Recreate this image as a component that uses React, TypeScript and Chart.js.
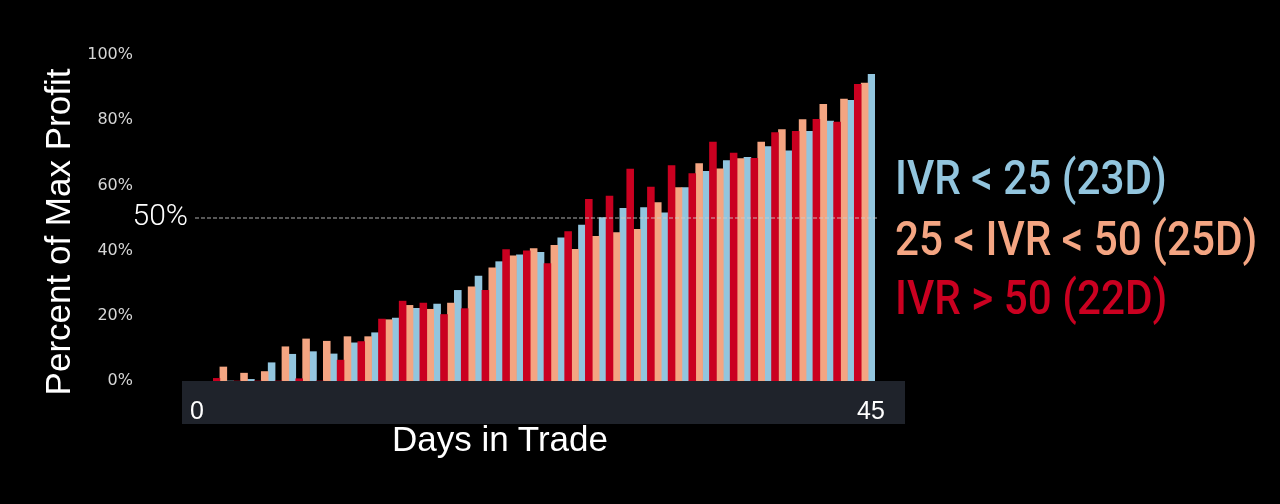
import { useEffect, useRef } from 'react'
import { Chart, registerables } from 'chart.js'

Chart.register(...registerables)

// one group of three bars per bucket, left to right
const buckets = [
  '0', '1', '2', '3', '4', '5', '6', '7', '8', '9', '10', '11', '12', '13', '14', '15',
  '16', '17', '18', '19', '20', '21', '22', '23', '24', '25', '26', '27', '28', '29', '30', '31',
]

// percent of max profit
const highIvr = [
  0.8, 0, 0, 0, 0.7, 0, 6.4, 12.1, 19.0, 24.5, 23.9, 20.4, 22.2, 27.8, 40.3, 39.9,
  36.0, 45.8, 55.7, 56.7, 65.0, 59.5, 66.1, 63.6, 73.3, 69.9, 68.3, 76.2, 76.6, 80.3, 79.4, 91.0,
]
const midIvr = [
  4.3, 2.4, 2.9, 10.5, 12.9, 12.2, 13.6, 13.6, 18.8, 23.2, 22.0, 23.9, 28.9, 34.7, 38.4, 40.6,
  41.6, 40.4, 44.4, 45.5, 46.5, 54.7, 59.3, 66.7, 65.1, 68.2, 73.3, 77.1, 80.2, 84.9, 86.5, 91.4,
]
const lowIvr = [
  0, 0.5, 5.6, 8.2, 9.0, 8.3, 11.7, 14.8, 19.3, 22.3, 23.6, 27.8, 32.2, 36.6, 38.7, 39.5,
  43.9, 47.8, 50.1, 53.0, 53.2, 51.6, 59.3, 64.3, 67.6, 68.6, 71.9, 70.6, 76.6, 79.7, 86.1, 94.1,
]

const seriesNames = ['IVR > 50 (22D)', '25 < IVR < 50 (25D)', 'IVR < 25 (23D)']
const xEdgeLabels = ['0', '45']
const targetLine = 50

const RED = '#ca0020'
const ORANGE = '#f4a582'
const BLUE = '#92c5de'

const targetPlugin = {
  id: 'targetLine',
  afterDatasetsDraw(chart: Chart) {
    const y = chart.scales.y.getPixelForValue(targetLine)
    const ctx = chart.ctx
    ctx.save()
    ctx.strokeStyle = 'rgba(205,205,205,0.85)'
    ctx.lineWidth = 1
    ctx.setLineDash([4, 2])
    ctx.beginPath()
    ctx.moveTo(195, y)
    ctx.lineTo(877, y)
    ctx.stroke()
    ctx.restore()
  },
}

function ProfitChart() {
  const canvasRef = useRef<HTMLCanvasElement>(null)
  const chartRef = useRef<Chart | null>(null)

  useEffect(() => {
    if (!canvasRef.current) return
    const ctx = canvasRef.current.getContext('2d')
    if (!ctx) return

    chartRef.current = new Chart(ctx, {
      type: 'bar',
      data: {
        labels: buckets,
        datasets: [
          { label: seriesNames[0], data: highIvr, backgroundColor: RED },
          { label: seriesNames[1], data: midIvr, backgroundColor: ORANGE },
          { label: seriesNames[2], data: lowIvr, backgroundColor: BLUE },
        ],
      },
      options: {
        animation: false,
        responsive: true,
        maintainAspectRatio: false,
        layout: { padding: { left: 0, top: 55, right: 405, bottom: 123 } },
        datasets: { bar: { barPercentage: 1, categoryPercentage: 1, borderWidth: 0 } },
        plugins: { legend: { display: false }, tooltip: { enabled: false } },
        scales: {
          x: { display: false },
          y: {
            min: 0,
            max: 100,
            afterFit: (scale) => {
              // fixed gutter; the big tick padding must not push the plot down
              scale.width = 213
              scale.paddingTop = 0
              scale.paddingBottom = 0
            },
            grid: { display: false, drawTicks: false },
            border: { display: false },
            ticks: {
              stepSize: 20,
              padding: 80,
              color: '#d6d6d6',
              font: { family: "'DejaVu Sans', sans-serif", size: 16 },
              callback: (v) => v + '%',
            },
          },
        },
      },
      plugins: [targetPlugin],
    })

    return () => {
      if (chartRef.current) {
        chartRef.current.destroy()
        chartRef.current = null
      }
    }
  }, [])

  return <canvas ref={canvasRef} />
}

export default function App() {
  useEffect(() => {
    document.body.style.margin = '0'
    document.body.style.background = '#000'
  }, [])

  const arial = "'Liberation Sans', Arial, sans-serif"
  const legendStyle = {
    position: 'absolute' as const,
    left: 895,
    font: '500 48px Roboto, sans-serif',
    lineHeight: '48px',
    whiteSpace: 'nowrap' as const,
    transform: 'scaleX(0.88)',
    transformOrigin: 'left center',
  }

  return (
    <div style={{ position: 'relative', width: 1280, height: 504, background: '#000', overflow: 'hidden' }}>
      <div style={{ position: 'absolute', left: 182, top: 381, width: 723, height: 43, background: '#1f232b' }} />
      <div style={{ position: 'absolute', inset: 0 }}>
        <ProfitChart />
      </div>
      <div style={{ position: 'absolute', left: 190, top: 398, color: '#fff', font: `25px ${arial}`, lineHeight: '25px' }}>
        {xEdgeLabels[0]}
      </div>
      <div style={{ position: 'absolute', left: 857, top: 398, color: '#fff', font: `25px ${arial}`, lineHeight: '25px' }}>
        {xEdgeLabels[1]}
      </div>
      <div style={{ position: 'absolute', left: 300, width: 400, top: 421, textAlign: 'center', color: '#fff', font: `35px ${arial}`, lineHeight: '35px' }}>
        Days in Trade
      </div>
      <div
        style={{
          position: 'absolute', left: 58 - 200, top: 232 - 20, width: 400, height: 40, textAlign: 'center',
          color: '#fff', font: `35px ${arial}`, lineHeight: '40px', transform: 'rotate(-90deg)',
        }}
      >
        Percent of Max Profit
      </div>
      <div style={{ position: 'absolute', right: 1280 - 188, top: 200, color: '#fff', font: `300 30px Roboto, sans-serif`, lineHeight: '30px' }}>
        {targetLine}%
      </div>
      <div style={{ ...legendStyle, top: 154, color: BLUE }}>{seriesNames[2]}</div>
      <div style={{ ...legendStyle, top: 215, color: ORANGE }}>{seriesNames[1]}</div>
      <div style={{ ...legendStyle, top: 274, color: RED }}>{seriesNames[0]}</div>
    </div>
  )
}
